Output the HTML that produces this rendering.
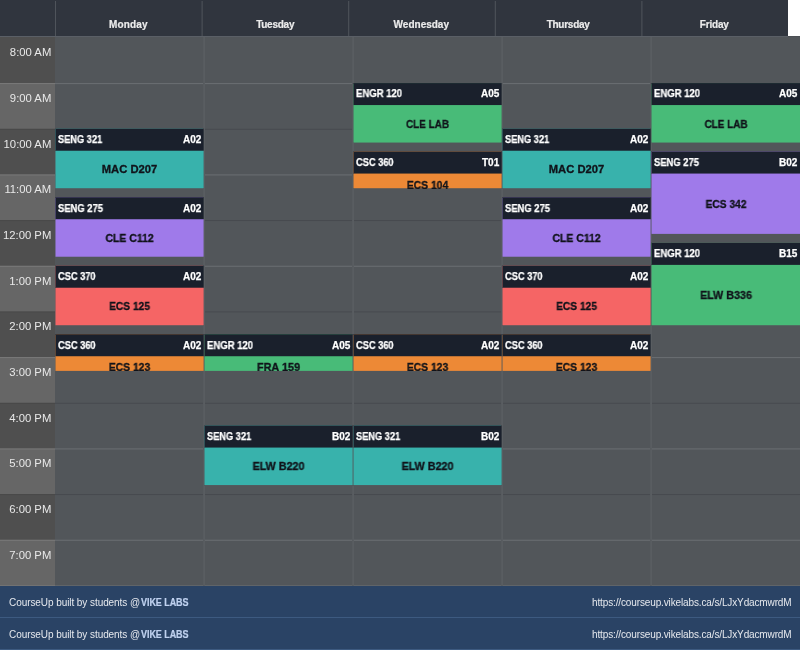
<!DOCTYPE html><html><head><meta charset="utf-8"><style>
*{box-sizing:border-box;margin:0;padding:0}
html,body{width:800px;height:650px;overflow:hidden;background:#fff;font-family:"Liberation Sans",sans-serif}
div,span{position:absolute}
.hl,.tl,.et,.lc,.ft span{will-change:transform}
.hl{top:0;height:36px;color:#ececec;-webkit-text-stroke:0.2px #ececec;font-weight:bold;font-size:10px;line-height:12px;text-align:center;padding-top:19px}
.tl{left:0;width:51.3px;text-align:right;color:#e8e8e8;font-size:11.3px;line-height:13px}
.et{color:#fff;-webkit-text-stroke:0.25px #fff;font-weight:bold;font-size:10px;line-height:12px;white-space:nowrap}
.lc{text-align:center;color:#10131a;-webkit-text-stroke:0.3px #10131a;font-weight:bold;font-size:11px;line-height:21px;height:21px;white-space:nowrap}
.ft{left:0;width:800px;height:32px;background:#2a4365;border-bottom:1px solid #3d5a80;color:#e6e9ee;font-size:10px}
.ft .l{left:9px;top:11px;line-height:12px;letter-spacing:-0.07px;white-space:nowrap}
.ft .l b{position:relative;color:#c0d2f0;display:inline-block;transform:scaleX(0.9);transform-origin:0 0;margin-left:0.5px;-webkit-text-stroke:0.2px #c0d2f0}
.ft .r{right:9px;top:11px;line-height:12px;letter-spacing:-0.13px;white-space:nowrap}
</style></head><body>
<div style="left:0px;top:0px;width:788px;height:36px;background:#30353e;"></div>
<div style="left:0px;top:37px;width:800px;height:549px;background:#52565a;"></div>
<div style="left:0px;top:36px;width:788px;height:1px;background:#5a5f66;"></div>
<div style="left:788px;top:36px;width:12px;height:1px;background:#4c5055;"></div>
<div style="left:55px;top:1px;width:1px;height:35px;background:#4f545b;"></div>
<div class="hl" style="left:55.00px;width:146.60px;letter-spacing:0.2px;text-indent:0.2px">Monday</div>
<div style="left:201px;top:1px;width:1px;height:35px;background:#3c414a;"></div>
<div style="left:202px;top:1px;width:1px;height:35px;background:#43484f;"></div>
<div class="hl" style="left:201.60px;width:146.60px;letter-spacing:-0.25px;text-indent:-0.25px">Tuesday</div>
<div style="left:348px;top:1px;width:1px;height:35px;background:#494e55;"></div>
<div style="left:349px;top:1px;width:1px;height:35px;background:#363b44;"></div>
<div class="hl" style="left:348.20px;width:146.60px;letter-spacing:0px;text-indent:0px">Wednesday</div>
<div style="left:494px;top:1px;width:1px;height:35px;background:#363b44;"></div>
<div style="left:495px;top:1px;width:1px;height:35px;background:#494e55;"></div>
<div class="hl" style="left:494.80px;width:146.60px;letter-spacing:-0.25px;text-indent:-0.25px">Thursday</div>
<div style="left:641px;top:1px;width:1px;height:35px;background:#43484f;"></div>
<div style="left:642px;top:1px;width:1px;height:35px;background:#3c414a;"></div>
<div class="hl" style="left:641.40px;width:146.60px;letter-spacing:-0.2px;text-indent:-0.2px">Friday</div>
<div style="left:0px;top:37px;width:55px;height:46px;background:#4f4f4f;"></div>
<div style="left:0px;top:85px;width:55px;height:43px;background:#666666;"></div>
<div style="left:0px;top:130px;width:55px;height:44px;background:#4f4f4f;"></div>
<div style="left:0px;top:176px;width:55px;height:44px;background:#666666;"></div>
<div style="left:0px;top:222px;width:55px;height:43px;background:#4f4f4f;"></div>
<div style="left:0px;top:267px;width:55px;height:44px;background:#666666;"></div>
<div style="left:0px;top:313px;width:55px;height:44px;background:#4f4f4f;"></div>
<div style="left:0px;top:359px;width:55px;height:43px;background:#666666;"></div>
<div style="left:0px;top:404px;width:55px;height:44px;background:#4f4f4f;"></div>
<div style="left:0px;top:450px;width:55px;height:44px;background:#666666;"></div>
<div style="left:0px;top:496px;width:55px;height:43px;background:#4f4f4f;"></div>
<div style="left:0px;top:541px;width:55px;height:44px;background:#666666;"></div>
<div style="left:0px;top:83px;width:55px;height:1px;background:#777777;"></div>
<div style="left:0px;top:84px;width:55px;height:1px;background:#676767;"></div>
<div style="left:55px;top:83px;width:745px;height:1px;background:#686c70;"></div>
<div style="left:55px;top:84px;width:745px;height:1px;background:#54585c;"></div>
<div style="left:0px;top:128px;width:55px;height:1px;background:#5e5e5e;"></div>
<div style="left:0px;top:129px;width:55px;height:1px;background:#494949;"></div>
<div style="left:55px;top:128px;width:745px;height:1px;background:#4f5357;"></div>
<div style="left:55px;top:129px;width:745px;height:1px;background:#494c51;"></div>
<div style="left:0px;top:174px;width:55px;height:1px;background:#696969;"></div>
<div style="left:0px;top:175px;width:55px;height:1px;background:#6e6e6e;"></div>
<div style="left:55px;top:174px;width:745px;height:1px;background:#606468;"></div>
<div style="left:55px;top:175px;width:745px;height:1px;background:#5c6064;"></div>
<div style="left:0px;top:220px;width:55px;height:1px;background:#494949;"></div>
<div style="left:0px;top:221px;width:55px;height:1px;background:#4e4e4e;"></div>
<div style="left:55px;top:220px;width:745px;height:1px;background:#474a4f;"></div>
<div style="left:55px;top:221px;width:745px;height:1px;background:#515559;"></div>
<div style="left:0px;top:265px;width:55px;height:1px;background:#5a5a5a;"></div>
<div style="left:0px;top:266px;width:55px;height:1px;background:#757575;"></div>
<div style="left:55px;top:265px;width:745px;height:1px;background:#585c60;"></div>
<div style="left:55px;top:266px;width:745px;height:1px;background:#64686c;"></div>
<div style="left:0px;top:311px;width:55px;height:1px;background:#535353;"></div>
<div style="left:0px;top:312px;width:55px;height:1px;background:#4c4c4c;"></div>
<div style="left:55px;top:311px;width:745px;height:1px;background:#4b4e53;"></div>
<div style="left:55px;top:312px;width:745px;height:1px;background:#4d5155;"></div>
<div style="left:0px;top:357px;width:55px;height:1px;background:#777777;"></div>
<div style="left:0px;top:358px;width:55px;height:1px;background:#676767;"></div>
<div style="left:55px;top:357px;width:745px;height:1px;background:#686c70;"></div>
<div style="left:55px;top:358px;width:745px;height:1px;background:#54585c;"></div>
<div style="left:0px;top:402px;width:55px;height:1px;background:#5e5e5e;"></div>
<div style="left:0px;top:403px;width:55px;height:1px;background:#494949;"></div>
<div style="left:55px;top:402px;width:745px;height:1px;background:#4f5357;"></div>
<div style="left:55px;top:403px;width:745px;height:1px;background:#494c51;"></div>
<div style="left:0px;top:448px;width:55px;height:1px;background:#696969;"></div>
<div style="left:0px;top:449px;width:55px;height:1px;background:#6e6e6e;"></div>
<div style="left:55px;top:448px;width:745px;height:1px;background:#606468;"></div>
<div style="left:55px;top:449px;width:745px;height:1px;background:#5c6064;"></div>
<div style="left:0px;top:494px;width:55px;height:1px;background:#494949;"></div>
<div style="left:0px;top:495px;width:55px;height:1px;background:#4e4e4e;"></div>
<div style="left:55px;top:494px;width:745px;height:1px;background:#474a4f;"></div>
<div style="left:55px;top:495px;width:745px;height:1px;background:#515559;"></div>
<div style="left:0px;top:539px;width:55px;height:1px;background:#5a5a5a;"></div>
<div style="left:0px;top:540px;width:55px;height:1px;background:#757575;"></div>
<div style="left:55px;top:539px;width:745px;height:1px;background:#585c60;"></div>
<div style="left:55px;top:540px;width:745px;height:1px;background:#64686c;"></div>
<div style="left:0px;top:585px;width:55px;height:1px;background:#727272;"></div>
<div style="left:0px;top:586px;width:55px;height:1px;background:#6e6e6e;"></div>
<div style="left:55px;top:585px;width:745px;height:1px;background:#606468;"></div>
<div style="left:55px;top:586px;width:745px;height:1px;background:#5c6064;"></div>
<div class="tl" style="top:46px">8:00 AM</div>
<div class="tl" style="top:92px">9:00 AM</div>
<div class="tl" style="top:138px">10:00 AM</div>
<div class="tl" style="top:183px">11:00 AM</div>
<div class="tl" style="top:229px">12:00 PM</div>
<div class="tl" style="top:275px">1:00 PM</div>
<div class="tl" style="top:320px">2:00 PM</div>
<div class="tl" style="top:366px">3:00 PM</div>
<div class="tl" style="top:412px">4:00 PM</div>
<div class="tl" style="top:457px">5:00 PM</div>
<div class="tl" style="top:503px">6:00 PM</div>
<div class="tl" style="top:549px">7:00 PM</div>
<div style="left:203px;top:37px;width:1px;height:549px;background:#575b5f;"></div>
<div style="left:204px;top:37px;width:1px;height:549px;background:#595d61;"></div>
<div style="left:352px;top:37px;width:1px;height:549px;background:#575b5f;"></div>
<div style="left:353px;top:37px;width:1px;height:549px;background:#595d61;"></div>
<div style="left:501px;top:37px;width:1px;height:549px;background:#575b5f;"></div>
<div style="left:502px;top:37px;width:1px;height:549px;background:#595d61;"></div>
<div style="left:650px;top:37px;width:1px;height:549px;background:#575b5f;"></div>
<div style="left:651px;top:37px;width:1px;height:549px;background:#595d61;"></div>
<div style="left:56px;top:129px;width:147px;height:21px;background:#1a202c;"></div>
<div style="left:56px;top:150px;width:147px;height:1px;background:#22474e;"></div>
<div style="left:56px;top:151px;width:147px;height:37px;background:#38b2ac;"></div>
<div style="left:56px;top:128px;width:147px;height:1px;background:#3e5a5e;"></div>
<div style="left:56px;top:188px;width:147px;height:1px;background:#4c6a6c;"></div>
<div style="left:55px;top:129px;width:1px;height:21px;background:#305258;"></div>
<div style="left:55px;top:150px;width:1px;height:1px;background:#3a4e54;"></div>
<div style="left:55px;top:151px;width:1px;height:37px;background:#458483;"></div>
<div style="left:55px;top:128px;width:1px;height:1px;background:#4b4f54;"></div>
<div style="left:55px;top:188px;width:1px;height:1px;background:#4f6063;"></div>
<div style="left:203px;top:129px;width:1px;height:21px;background:#30363e;"></div>
<div style="left:203px;top:150px;width:1px;height:1px;background:#354d53;"></div>
<div style="left:203px;top:151px;width:1px;height:37px;background:#428d8b;"></div>
<div style="left:203px;top:128px;width:1px;height:1px;background:#494d53;"></div>
<div style="left:203px;top:188px;width:1px;height:1px;background:#4f6265;"></div>
<span class="et" style="left:58.00px;top:134px;transform:scaleX(0.925);transform-origin:0 0">SENG 321</span>
<span class="et" style="right:598.60px;top:134px">A02</span>
<div style="left:56px;top:151px;width:147px;height:38px;overflow:hidden"><div class="lc" style="left:0;width:147px;top:8px;transform:scaleX(1.020);transform-origin:50% 0">MAC D207</div></div>
<div style="left:56px;top:198px;width:147px;height:21px;background:#1a202c;"></div>
<div style="left:56px;top:219px;width:147px;height:1px;background:#8065be;"></div>
<div style="left:56px;top:220px;width:147px;height:36px;background:#9f7aea;"></div>
<div style="left:56px;top:197px;width:147px;height:1px;background:#353350;"></div>
<div style="left:56px;top:256px;width:147px;height:1px;background:#8a70c2;"></div>
<div style="left:55px;top:198px;width:1px;height:21px;background:#494467;"></div>
<div style="left:55px;top:219px;width:1px;height:1px;background:#695e8c;"></div>
<div style="left:55px;top:220px;width:1px;height:36px;background:#7868a2;"></div>
<div style="left:55px;top:197px;width:1px;height:1px;background:#3d4148;"></div>
<div style="left:55px;top:256px;width:1px;height:1px;background:#6e638e;"></div>
<div style="left:203px;top:198px;width:1px;height:21px;background:#30363e;"></div>
<div style="left:203px;top:219px;width:1px;height:1px;background:#6e5f96;"></div>
<div style="left:203px;top:220px;width:1px;height:36px;background:#806cb0;"></div>
<div style="left:203px;top:197px;width:1px;height:1px;background:#383d45;"></div>
<div style="left:203px;top:256px;width:1px;height:1px;background:#736698;"></div>
<span class="et" style="left:58.00px;top:203px;transform:scaleX(0.941);transform-origin:0 0">SENG 275</span>
<span class="et" style="right:598.60px;top:203px">A02</span>
<div style="left:56px;top:220px;width:147px;height:37px;overflow:hidden"><div class="lc" style="left:0;width:147px;top:8px;transform:scaleX(0.951);transform-origin:50% 0">CLE C112</div></div>
<div style="left:56px;top:266px;width:147px;height:21px;background:#1a202c;"></div>
<div style="left:56px;top:287px;width:147px;height:1px;background:#54323b;"></div>
<div style="left:56px;top:288px;width:147px;height:37px;background:#f56565;"></div>
<div style="left:56px;top:265px;width:147px;height:1px;background:#634b50;"></div>
<div style="left:56px;top:325px;width:147px;height:1px;background:#76595c;"></div>
<div style="left:55px;top:266px;width:1px;height:21px;background:#5f3f46;"></div>
<div style="left:55px;top:287px;width:1px;height:1px;background:#53444b;"></div>
<div style="left:55px;top:288px;width:1px;height:37px;background:#a45e60;"></div>
<div style="left:55px;top:265px;width:1px;height:1px;background:#4b4f54;"></div>
<div style="left:55px;top:325px;width:1px;height:1px;background:#64585b;"></div>
<div style="left:203px;top:266px;width:1px;height:21px;background:#30363e;"></div>
<div style="left:203px;top:287px;width:1px;height:1px;background:#534148;"></div>
<div style="left:203px;top:288px;width:1px;height:37px;background:#b45f61;"></div>
<div style="left:203px;top:265px;width:1px;height:1px;background:#494d53;"></div>
<div style="left:203px;top:325px;width:1px;height:1px;background:#68585b;"></div>
<span class="et" style="left:58.00px;top:271px;transform:scaleX(0.925);transform-origin:0 0">CSC 370</span>
<span class="et" style="right:598.60px;top:271px">A02</span>
<div style="left:56px;top:288px;width:147px;height:38px;overflow:hidden"><div class="lc" style="left:0;width:147px;top:8px;transform:scaleX(0.925);transform-origin:50% 0">ECS 125</div></div>
<div style="left:56px;top:335px;width:147px;height:21px;background:#1a202c;"></div>
<div style="left:56px;top:356px;width:147px;height:1px;background:#bc7134;"></div>
<div style="left:56px;top:357px;width:147px;height:13px;background:#ed8936;"></div>
<div style="left:56px;top:334px;width:147px;height:1px;background:#433630;"></div>
<div style="left:56px;top:370px;width:147px;height:1px;background:#dc833a;"></div>
<div style="left:55px;top:335px;width:1px;height:21px;background:#5d483a;"></div>
<div style="left:55px;top:356px;width:1px;height:1px;background:#876347;"></div>
<div style="left:55px;top:357px;width:1px;height:13px;background:#a07048;"></div>
<div style="left:55px;top:334px;width:1px;height:1px;background:#3d4148;"></div>
<div style="left:55px;top:370px;width:1px;height:1px;background:#976d4a;"></div>
<div style="left:203px;top:335px;width:1px;height:21px;background:#30363e;"></div>
<div style="left:203px;top:356px;width:1px;height:1px;background:#916643;"></div>
<div style="left:203px;top:357px;width:1px;height:13px;background:#af7544;"></div>
<div style="left:203px;top:334px;width:1px;height:1px;background:#383d45;"></div>
<div style="left:203px;top:370px;width:1px;height:1px;background:#a57147;"></div>
<span class="et" style="left:58.00px;top:340px;transform:scaleX(0.925);transform-origin:0 0">CSC 360</span>
<span class="et" style="right:598.60px;top:340px">A02</span>
<div style="left:56px;top:357px;width:147px;height:14px;overflow:hidden"><div class="lc" style="left:0;width:147px;top:0px;transform:scaleX(0.939);transform-origin:50% 0">ECS 123</div></div>
<div style="left:205px;top:335px;width:147px;height:21px;background:#1a202c;"></div>
<div style="left:205px;top:356px;width:147px;height:1px;background:#3d9766;"></div>
<div style="left:205px;top:357px;width:147px;height:13px;background:#48bb78;"></div>
<div style="left:205px;top:334px;width:147px;height:1px;background:#253f3c;"></div>
<div style="left:205px;top:370px;width:147px;height:1px;background:#49b075;"></div>
<div style="left:204px;top:335px;width:1px;height:21px;background:#34544a;"></div>
<div style="left:204px;top:356px;width:1px;height:1px;background:#487660;"></div>
<div style="left:204px;top:357px;width:1px;height:13px;background:#4d8869;"></div>
<div style="left:204px;top:334px;width:1px;height:1px;background:#3d4148;"></div>
<div style="left:204px;top:370px;width:1px;height:1px;background:#4e8367;"></div>
<div style="left:352px;top:335px;width:1px;height:21px;background:#30363e;"></div>
<div style="left:352px;top:356px;width:1px;height:1px;background:#467d61;"></div>
<div style="left:352px;top:357px;width:1px;height:13px;background:#4c936c;"></div>
<div style="left:352px;top:334px;width:1px;height:1px;background:#383d45;"></div>
<div style="left:352px;top:370px;width:1px;height:1px;background:#4d8c6a;"></div>
<span class="et" style="left:207.00px;top:340px;transform:scaleX(0.951);transform-origin:0 0">ENGR 120</span>
<span class="et" style="right:449.60px;top:340px">A05</span>
<div style="left:205px;top:357px;width:147px;height:14px;overflow:hidden"><div class="lc" style="left:0;width:147px;top:0px;transform:scaleX(0.989);transform-origin:50% 0">FRA 159</div></div>
<div style="left:205px;top:426px;width:147px;height:21px;background:#1a202c;"></div>
<div style="left:205px;top:447px;width:147px;height:1px;background:#275f63;"></div>
<div style="left:205px;top:448px;width:147px;height:37px;background:#38b2ac;"></div>
<div style="left:205px;top:425px;width:147px;height:1px;background:#33555a;"></div>
<div style="left:205px;top:485px;width:147px;height:1px;background:#515b5f;"></div>
<div style="left:204px;top:426px;width:1px;height:21px;background:#305258;"></div>
<div style="left:204px;top:447px;width:1px;height:1px;background:#3d5b5f;"></div>
<div style="left:204px;top:448px;width:1px;height:37px;background:#458483;"></div>
<div style="left:204px;top:425px;width:1px;height:1px;background:#464a50;"></div>
<div style="left:204px;top:485px;width:1px;height:1px;background:#51595c;"></div>
<div style="left:352px;top:426px;width:1px;height:21px;background:#30363e;"></div>
<div style="left:352px;top:447px;width:1px;height:1px;background:#385c60;"></div>
<div style="left:352px;top:448px;width:1px;height:37px;background:#428d8b;"></div>
<div style="left:352px;top:425px;width:1px;height:1px;background:#43484e;"></div>
<div style="left:352px;top:485px;width:1px;height:1px;background:#51595d;"></div>
<span class="et" style="left:207.00px;top:431px;transform:scaleX(0.925);transform-origin:0 0">SENG 321</span>
<span class="et" style="right:449.60px;top:431px">B02</span>
<div style="left:205px;top:448px;width:147px;height:38px;overflow:hidden"><div class="lc" style="left:0;width:147px;top:8px;transform:scaleX(0.977);transform-origin:50% 0">ELW B220</div></div>
<div style="left:354px;top:84px;width:147px;height:21px;background:#1a202c;"></div>
<div style="left:354px;top:105px;width:147px;height:1px;background:#45b173;"></div>
<div style="left:354px;top:106px;width:147px;height:36px;background:#48bb78;"></div>
<div style="left:354px;top:83px;width:147px;height:1px;background:#1d2a31;"></div>
<div style="left:354px;top:142px;width:147px;height:1px;background:#4c8e6b;"></div>
<div style="left:353px;top:84px;width:1px;height:21px;background:#34544a;"></div>
<div style="left:353px;top:105px;width:1px;height:1px;background:#4b8366;"></div>
<div style="left:353px;top:106px;width:1px;height:36px;background:#4d8869;"></div>
<div style="left:353px;top:83px;width:1px;height:1px;background:#383d45;"></div>
<div style="left:353px;top:142px;width:1px;height:1px;background:#4f7262;"></div>
<div style="left:501px;top:84px;width:1px;height:21px;background:#30363e;"></div>
<div style="left:501px;top:105px;width:1px;height:1px;background:#4a8c69;"></div>
<div style="left:501px;top:106px;width:1px;height:36px;background:#4c936c;"></div>
<div style="left:501px;top:83px;width:1px;height:1px;background:#333840;"></div>
<div style="left:501px;top:142px;width:1px;height:1px;background:#4f7864;"></div>
<span class="et" style="left:356.00px;top:88px;transform:scaleX(0.951);transform-origin:0 0">ENGR 120</span>
<span class="et" style="right:300.60px;top:88px">A05</span>
<div style="left:354px;top:106px;width:147px;height:37px;overflow:hidden"><div class="lc" style="left:0;width:147px;top:8px;transform:scaleX(0.901);transform-origin:50% 0">CLE LAB</div></div>
<div style="left:354px;top:152px;width:147px;height:21px;background:#1a202c;"></div>
<div style="left:354px;top:173px;width:147px;height:1px;background:#754e30;"></div>
<div style="left:354px;top:174px;width:147px;height:14px;background:#ed8936;"></div>
<div style="left:354px;top:151px;width:147px;height:1px;background:#604b3d;"></div>
<div style="left:354px;top:188px;width:147px;height:1px;background:#746152;"></div>
<div style="left:353px;top:152px;width:1px;height:21px;background:#5d483a;"></div>
<div style="left:353px;top:173px;width:1px;height:1px;background:#645245;"></div>
<div style="left:353px;top:174px;width:1px;height:14px;background:#a07048;"></div>
<div style="left:353px;top:151px;width:1px;height:1px;background:#464a50;"></div>
<div style="left:353px;top:188px;width:1px;height:1px;background:#635c56;"></div>
<div style="left:501px;top:152px;width:1px;height:21px;background:#30363e;"></div>
<div style="left:501px;top:173px;width:1px;height:1px;background:#675141;"></div>
<div style="left:501px;top:174px;width:1px;height:14px;background:#af7544;"></div>
<div style="left:501px;top:151px;width:1px;height:1px;background:#43484e;"></div>
<div style="left:501px;top:188px;width:1px;height:1px;background:#675d55;"></div>
<span class="et" style="left:356.00px;top:157px;transform:scaleX(0.925);transform-origin:0 0">CSC 360</span>
<span class="et" style="right:300.60px;top:157px">T01</span>
<div style="left:354px;top:174px;width:147px;height:15px;overflow:hidden"><div class="lc" style="left:0;width:147px;top:1px;transform:scaleX(0.941);transform-origin:50% 0">ECS 104</div></div>
<div style="left:354px;top:335px;width:147px;height:21px;background:#1a202c;"></div>
<div style="left:354px;top:356px;width:147px;height:1px;background:#bc7134;"></div>
<div style="left:354px;top:357px;width:147px;height:13px;background:#ed8936;"></div>
<div style="left:354px;top:334px;width:147px;height:1px;background:#433630;"></div>
<div style="left:354px;top:370px;width:147px;height:1px;background:#dc833a;"></div>
<div style="left:353px;top:335px;width:1px;height:21px;background:#5d483a;"></div>
<div style="left:353px;top:356px;width:1px;height:1px;background:#876347;"></div>
<div style="left:353px;top:357px;width:1px;height:13px;background:#a07048;"></div>
<div style="left:353px;top:334px;width:1px;height:1px;background:#3d4148;"></div>
<div style="left:353px;top:370px;width:1px;height:1px;background:#976d4a;"></div>
<div style="left:501px;top:335px;width:1px;height:21px;background:#30363e;"></div>
<div style="left:501px;top:356px;width:1px;height:1px;background:#916643;"></div>
<div style="left:501px;top:357px;width:1px;height:13px;background:#af7544;"></div>
<div style="left:501px;top:334px;width:1px;height:1px;background:#383d45;"></div>
<div style="left:501px;top:370px;width:1px;height:1px;background:#a57147;"></div>
<span class="et" style="left:356.00px;top:340px;transform:scaleX(0.925);transform-origin:0 0">CSC 360</span>
<span class="et" style="right:300.60px;top:340px">A02</span>
<div style="left:354px;top:357px;width:147px;height:14px;overflow:hidden"><div class="lc" style="left:0;width:147px;top:0px;transform:scaleX(0.939);transform-origin:50% 0">ECS 123</div></div>
<div style="left:354px;top:426px;width:147px;height:21px;background:#1a202c;"></div>
<div style="left:354px;top:447px;width:147px;height:1px;background:#275f63;"></div>
<div style="left:354px;top:448px;width:147px;height:37px;background:#38b2ac;"></div>
<div style="left:354px;top:425px;width:147px;height:1px;background:#33555a;"></div>
<div style="left:354px;top:485px;width:147px;height:1px;background:#515b5f;"></div>
<div style="left:353px;top:426px;width:1px;height:21px;background:#305258;"></div>
<div style="left:353px;top:447px;width:1px;height:1px;background:#3d5b5f;"></div>
<div style="left:353px;top:448px;width:1px;height:37px;background:#458483;"></div>
<div style="left:353px;top:425px;width:1px;height:1px;background:#464a50;"></div>
<div style="left:353px;top:485px;width:1px;height:1px;background:#51595c;"></div>
<div style="left:501px;top:426px;width:1px;height:21px;background:#30363e;"></div>
<div style="left:501px;top:447px;width:1px;height:1px;background:#385c60;"></div>
<div style="left:501px;top:448px;width:1px;height:37px;background:#428d8b;"></div>
<div style="left:501px;top:425px;width:1px;height:1px;background:#43484e;"></div>
<div style="left:501px;top:485px;width:1px;height:1px;background:#51595d;"></div>
<span class="et" style="left:356.00px;top:431px;transform:scaleX(0.925);transform-origin:0 0">SENG 321</span>
<span class="et" style="right:300.60px;top:431px">B02</span>
<div style="left:354px;top:448px;width:147px;height:38px;overflow:hidden"><div class="lc" style="left:0;width:147px;top:8px;transform:scaleX(0.977);transform-origin:50% 0">ELW B220</div></div>
<div style="left:503px;top:129px;width:147px;height:21px;background:#1a202c;"></div>
<div style="left:503px;top:150px;width:147px;height:1px;background:#22474e;"></div>
<div style="left:503px;top:151px;width:147px;height:37px;background:#38b2ac;"></div>
<div style="left:503px;top:128px;width:147px;height:1px;background:#3e5a5e;"></div>
<div style="left:503px;top:188px;width:147px;height:1px;background:#4c6a6c;"></div>
<div style="left:502px;top:129px;width:1px;height:21px;background:#305258;"></div>
<div style="left:502px;top:150px;width:1px;height:1px;background:#3a4e54;"></div>
<div style="left:502px;top:151px;width:1px;height:37px;background:#458483;"></div>
<div style="left:502px;top:128px;width:1px;height:1px;background:#4b4f54;"></div>
<div style="left:502px;top:188px;width:1px;height:1px;background:#4f6063;"></div>
<div style="left:650px;top:129px;width:1px;height:21px;background:#30363e;"></div>
<div style="left:650px;top:150px;width:1px;height:1px;background:#354d53;"></div>
<div style="left:650px;top:151px;width:1px;height:37px;background:#428d8b;"></div>
<div style="left:650px;top:128px;width:1px;height:1px;background:#494d53;"></div>
<div style="left:650px;top:188px;width:1px;height:1px;background:#4f6265;"></div>
<span class="et" style="left:505.00px;top:134px;transform:scaleX(0.925);transform-origin:0 0">SENG 321</span>
<span class="et" style="right:151.60px;top:134px">A02</span>
<div style="left:503px;top:151px;width:147px;height:38px;overflow:hidden"><div class="lc" style="left:0;width:147px;top:8px;transform:scaleX(1.020);transform-origin:50% 0">MAC D207</div></div>
<div style="left:503px;top:198px;width:147px;height:21px;background:#1a202c;"></div>
<div style="left:503px;top:219px;width:147px;height:1px;background:#8065be;"></div>
<div style="left:503px;top:220px;width:147px;height:36px;background:#9f7aea;"></div>
<div style="left:503px;top:197px;width:147px;height:1px;background:#353350;"></div>
<div style="left:503px;top:256px;width:147px;height:1px;background:#8a70c2;"></div>
<div style="left:502px;top:198px;width:1px;height:21px;background:#494467;"></div>
<div style="left:502px;top:219px;width:1px;height:1px;background:#695e8c;"></div>
<div style="left:502px;top:220px;width:1px;height:36px;background:#7868a2;"></div>
<div style="left:502px;top:197px;width:1px;height:1px;background:#3d4148;"></div>
<div style="left:502px;top:256px;width:1px;height:1px;background:#6e638e;"></div>
<div style="left:650px;top:198px;width:1px;height:21px;background:#30363e;"></div>
<div style="left:650px;top:219px;width:1px;height:1px;background:#6e5f96;"></div>
<div style="left:650px;top:220px;width:1px;height:36px;background:#806cb0;"></div>
<div style="left:650px;top:197px;width:1px;height:1px;background:#383d45;"></div>
<div style="left:650px;top:256px;width:1px;height:1px;background:#736698;"></div>
<span class="et" style="left:505.00px;top:203px;transform:scaleX(0.941);transform-origin:0 0">SENG 275</span>
<span class="et" style="right:151.60px;top:203px">A02</span>
<div style="left:503px;top:220px;width:147px;height:37px;overflow:hidden"><div class="lc" style="left:0;width:147px;top:8px;transform:scaleX(0.951);transform-origin:50% 0">CLE C112</div></div>
<div style="left:503px;top:266px;width:147px;height:21px;background:#1a202c;"></div>
<div style="left:503px;top:287px;width:147px;height:1px;background:#54323b;"></div>
<div style="left:503px;top:288px;width:147px;height:37px;background:#f56565;"></div>
<div style="left:503px;top:265px;width:147px;height:1px;background:#634b50;"></div>
<div style="left:503px;top:325px;width:147px;height:1px;background:#76595c;"></div>
<div style="left:502px;top:266px;width:1px;height:21px;background:#5f3f46;"></div>
<div style="left:502px;top:287px;width:1px;height:1px;background:#53444b;"></div>
<div style="left:502px;top:288px;width:1px;height:37px;background:#a45e60;"></div>
<div style="left:502px;top:265px;width:1px;height:1px;background:#4b4f54;"></div>
<div style="left:502px;top:325px;width:1px;height:1px;background:#64585b;"></div>
<div style="left:650px;top:266px;width:1px;height:21px;background:#30363e;"></div>
<div style="left:650px;top:287px;width:1px;height:1px;background:#534148;"></div>
<div style="left:650px;top:288px;width:1px;height:37px;background:#b45f61;"></div>
<div style="left:650px;top:265px;width:1px;height:1px;background:#494d53;"></div>
<div style="left:650px;top:325px;width:1px;height:1px;background:#68585b;"></div>
<span class="et" style="left:505.00px;top:271px;transform:scaleX(0.925);transform-origin:0 0">CSC 370</span>
<span class="et" style="right:151.60px;top:271px">A02</span>
<div style="left:503px;top:288px;width:147px;height:38px;overflow:hidden"><div class="lc" style="left:0;width:147px;top:8px;transform:scaleX(0.925);transform-origin:50% 0">ECS 125</div></div>
<div style="left:503px;top:335px;width:147px;height:21px;background:#1a202c;"></div>
<div style="left:503px;top:356px;width:147px;height:1px;background:#bc7134;"></div>
<div style="left:503px;top:357px;width:147px;height:13px;background:#ed8936;"></div>
<div style="left:503px;top:334px;width:147px;height:1px;background:#433630;"></div>
<div style="left:503px;top:370px;width:147px;height:1px;background:#dc833a;"></div>
<div style="left:502px;top:335px;width:1px;height:21px;background:#5d483a;"></div>
<div style="left:502px;top:356px;width:1px;height:1px;background:#876347;"></div>
<div style="left:502px;top:357px;width:1px;height:13px;background:#a07048;"></div>
<div style="left:502px;top:334px;width:1px;height:1px;background:#3d4148;"></div>
<div style="left:502px;top:370px;width:1px;height:1px;background:#976d4a;"></div>
<div style="left:650px;top:335px;width:1px;height:21px;background:#30363e;"></div>
<div style="left:650px;top:356px;width:1px;height:1px;background:#916643;"></div>
<div style="left:650px;top:357px;width:1px;height:13px;background:#af7544;"></div>
<div style="left:650px;top:334px;width:1px;height:1px;background:#383d45;"></div>
<div style="left:650px;top:370px;width:1px;height:1px;background:#a57147;"></div>
<span class="et" style="left:505.00px;top:340px;transform:scaleX(0.925);transform-origin:0 0">CSC 360</span>
<span class="et" style="right:151.60px;top:340px">A02</span>
<div style="left:503px;top:357px;width:147px;height:14px;overflow:hidden"><div class="lc" style="left:0;width:147px;top:0px;transform:scaleX(0.939);transform-origin:50% 0">ECS 123</div></div>
<div style="left:652px;top:84px;width:148px;height:21px;background:#1a202c;"></div>
<div style="left:652px;top:105px;width:148px;height:1px;background:#45b173;"></div>
<div style="left:652px;top:106px;width:148px;height:36px;background:#48bb78;"></div>
<div style="left:652px;top:83px;width:148px;height:1px;background:#1d2a31;"></div>
<div style="left:652px;top:142px;width:148px;height:1px;background:#4c8e6b;"></div>
<div style="left:651px;top:84px;width:1px;height:21px;background:#34544a;"></div>
<div style="left:651px;top:105px;width:1px;height:1px;background:#4b8366;"></div>
<div style="left:651px;top:106px;width:1px;height:36px;background:#4d8869;"></div>
<div style="left:651px;top:83px;width:1px;height:1px;background:#383d45;"></div>
<div style="left:651px;top:142px;width:1px;height:1px;background:#4f7262;"></div>
<span class="et" style="left:654.00px;top:88px;transform:scaleX(0.951);transform-origin:0 0">ENGR 120</span>
<span class="et" style="right:2.20px;top:88px">A05</span>
<div style="left:652px;top:106px;width:148px;height:37px;overflow:hidden"><div class="lc" style="left:0;width:148px;top:8px;transform:scaleX(0.901);transform-origin:50% 0">CLE LAB</div></div>
<div style="left:652px;top:152px;width:148px;height:21px;background:#1a202c;"></div>
<div style="left:652px;top:173px;width:148px;height:1px;background:#54477e;"></div>
<div style="left:652px;top:174px;width:148px;height:59px;background:#9f7aea;"></div>
<div style="left:652px;top:151px;width:148px;height:1px;background:#4d4769;"></div>
<div style="left:652px;top:233px;width:148px;height:1px;background:#9676da;"></div>
<div style="left:651px;top:152px;width:1px;height:21px;background:#494467;"></div>
<div style="left:651px;top:173px;width:1px;height:1px;background:#534f6c;"></div>
<div style="left:651px;top:174px;width:1px;height:59px;background:#7868a2;"></div>
<div style="left:651px;top:151px;width:1px;height:1px;background:#464a50;"></div>
<div style="left:651px;top:233px;width:1px;height:1px;background:#74669a;"></div>
<span class="et" style="left:654.00px;top:157px;transform:scaleX(0.941);transform-origin:0 0">SENG 275</span>
<span class="et" style="right:2.20px;top:157px">B02</span>
<div style="left:652px;top:174px;width:148px;height:60px;overflow:hidden"><div class="lc" style="left:0;width:148px;top:20px;transform:scaleX(0.927);transform-origin:50% 0">ECS 342</div></div>
<div style="left:652px;top:243px;width:148px;height:21px;background:#1a202c;"></div>
<div style="left:652px;top:264px;width:148px;height:1px;background:#1f3034;"></div>
<div style="left:652px;top:265px;width:148px;height:60px;background:#48bb78;"></div>
<div style="left:652px;top:242px;width:148px;height:1px;background:#4c5a58;"></div>
<div style="left:652px;top:325px;width:148px;height:1px;background:#506c61;"></div>
<div style="left:651px;top:243px;width:1px;height:21px;background:#34544a;"></div>
<div style="left:651px;top:264px;width:1px;height:1px;background:#384347;"></div>
<div style="left:651px;top:265px;width:1px;height:60px;background:#4d8869;"></div>
<div style="left:651px;top:242px;width:1px;height:1px;background:#4f5358;"></div>
<div style="left:651px;top:325px;width:1px;height:1px;background:#51615d;"></div>
<span class="et" style="left:654.00px;top:248px;transform:scaleX(0.951);transform-origin:0 0">ENGR 120</span>
<span class="et" style="right:2.20px;top:248px">B15</span>
<div style="left:652px;top:265px;width:148px;height:61px;overflow:hidden"><div class="lc" style="left:0;width:148px;top:20px;transform:scaleX(0.977);transform-origin:50% 0">ELW B336</div></div>
<div class="ft" style="top:586px"><span class="l">CourseUp built by students @<b>VIKE LABS</b></span><span class="r">https://courseup.vikelabs.ca/s/LJxYdacmwrdM</span></div>
<div class="ft" style="top:618px"><span class="l">CourseUp built by students @<b>VIKE LABS</b></span><span class="r">https://courseup.vikelabs.ca/s/LJxYdacmwrdM</span></div>
</body></html>
